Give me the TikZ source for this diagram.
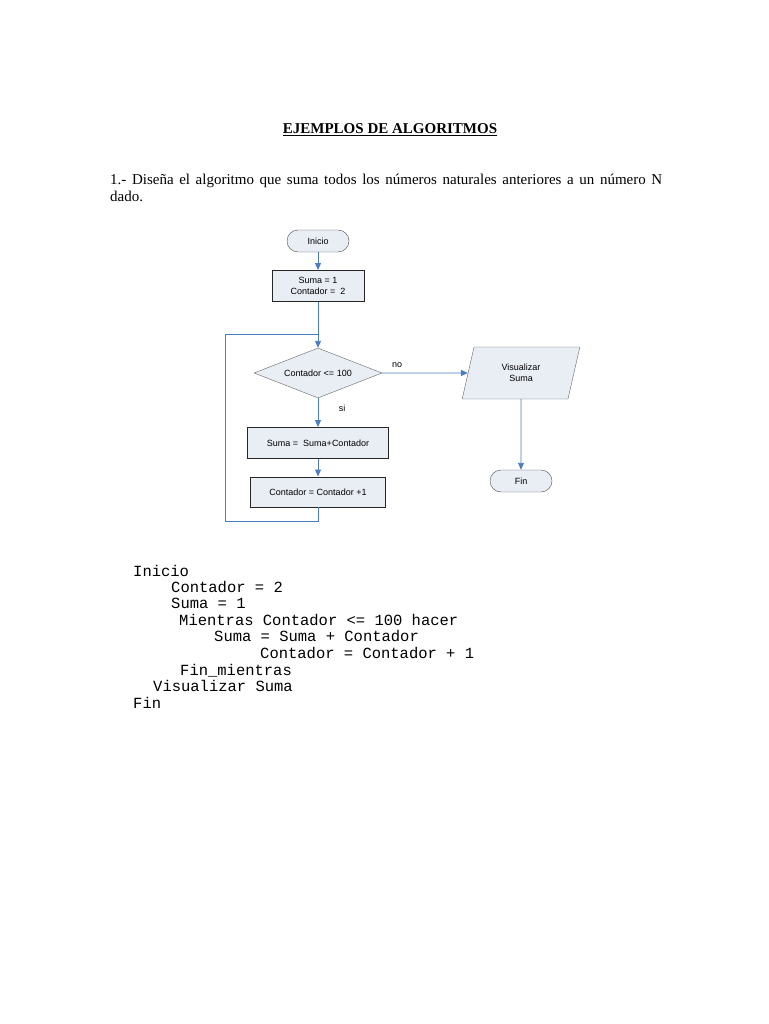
\documentclass[tikz,border=0pt]{standalone}
\usepackage{fontspec}
\setmainfont{Liberation Serif}
\newfontfamily\sans{Liberation Sans}
\newfontfamily\mono{Liberation Mono}
\usetikzlibrary{shapes.geometric,arrows.meta}
\definecolor{fc}{HTML}{E9EDF4}
\definecolor{lc}{HTML}{4A7EC4}
\begin{document}
\begin{tikzpicture}[x=1pt,y=-1pt,
 every node/.style={font=\sans\fontsize{9}{10.5}\selectfont, inner sep=0pt},
 term/.style={draw=black!70, fill=fc, rounded corners=11pt, minimum width=62pt, minimum height=22pt},
 proc/.style={draw=black!85, line width=0.9pt, fill=fc, minimum height=31pt, align=center},
 dec/.style={diamond, draw=black!60, fill=fc, minimum width=128pt, minimum height=50pt, aspect=2.56},
 io/.style={trapezium, trapezium left angle=74, trapezium right angle=106, draw=black!60, fill=fc, minimum width=118pt, minimum height=52pt, trapezium stretches=true, align=center},
 arr/.style={draw=lc, line width=0.9pt, -{Triangle[length=7pt,width=6pt]}},
 ln/.style={draw=lc, line width=0.9pt},
 code/.style={anchor=base west, font=\mono\fontsize{15.5}{17}\selectfont}]
\useasboundingbox (0,0) rectangle (768,1024);
\node[font=\bfseries\fontsize{15}{18}\selectfont] (title) at (390,130) {\underline{EJEMPLOS DE ALGORITMOS}};
\node[anchor=north west, font=\fontsize{15}{17}\selectfont, align=left] (q) at (110,174) {\makebox[552pt][s]{1.- Diseña el algoritmo que suma todos los números naturales anteriores a un número N}\\dado.};
\node[term] (ini) at (318,241) {Inicio};
\node[proc, minimum width=92pt] (b1) at (318,286) {Suma = 1\\Contador = \ 2};
\node[dec] (d) at (318,373) {Contador <= 100};
\node[io] (v) at (521,373) {Visualizar\\Suma};
\node[proc, minimum width=141pt] (b3) at (318,443) {Suma = \ Suma+Contador};
\node[proc, minimum width=135pt, minimum height=30pt] (b4) at (318,492) {Contador = Contador +1};
\node[term] (fin) at (521,481) {Fin};
\node (no) at (397,365) {no};
\node (si) at (342,408) {si};
\coordinate (j) at (318,334);
\coordinate (c1) at (225,334);
\coordinate (c2) at (225,521);
\coordinate (c3) at (318,521);
\draw[arr] (ini) -- (b1);
\draw[arr] (b1) -- (d);
\draw[arr] (d) -- (v);
\draw[arr] (d) -- (b3);
\draw[arr] (b3) -- (b4);
\draw[arr] (v) -- (fin);
\draw[ln] (b4.south) -- (c3) -- (c2) -- (c1) -- (j);
\node[code] (l1) at (133,576) {Inicio};
\node[code] (l2) at (171,592) {Contador = 2};
\node[code] (l3) at (171,608) {Suma = 1};
\node[code] (l4) at (179,625) {Mientras Contador <= 100 hacer};
\node[code] (l5) at (214,641) {Suma = Suma + Contador};
\node[code] (l6) at (260,658) {Contador = Contador + 1};
\node[code] (l7) at (180,675) {Fin\_mientras};
\node[code] (l8) at (153,691) {Visualizar Suma};
\node[code] (l9) at (133,708) {Fin};
\end{tikzpicture}
\end{document}
